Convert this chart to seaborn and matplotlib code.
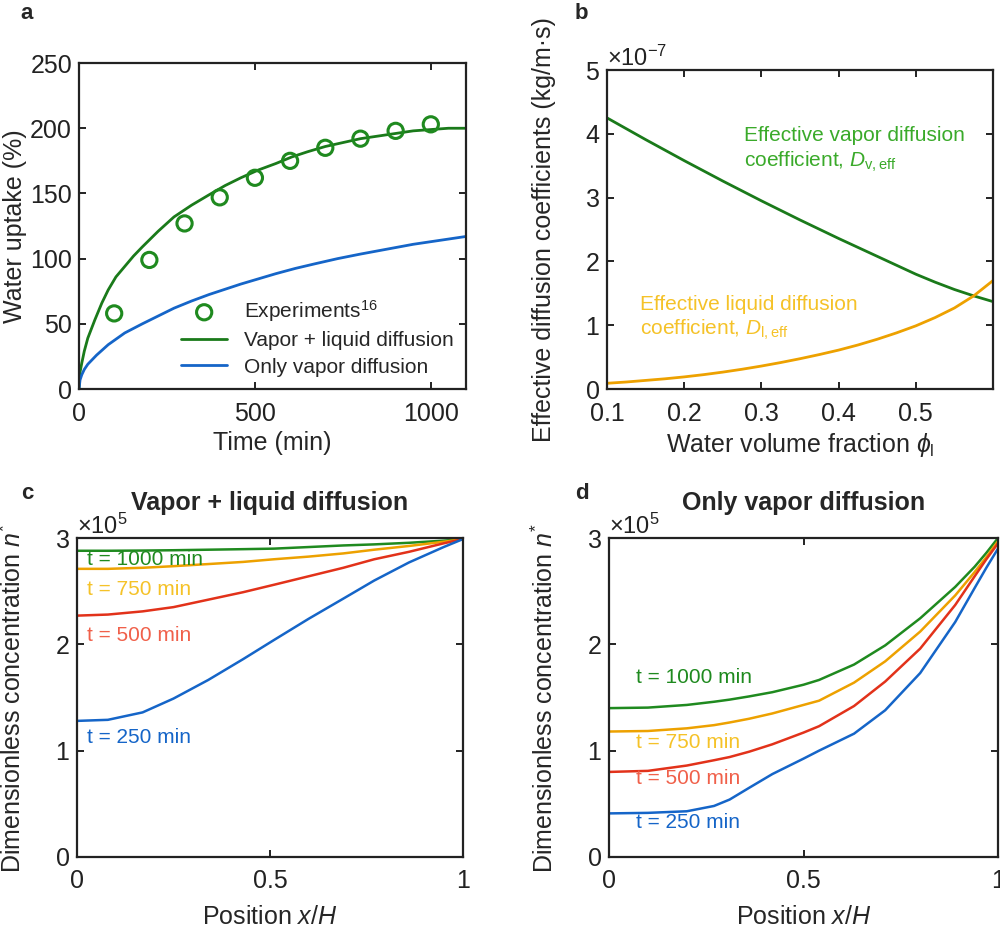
import numpy as np
import pandas as pd
import seaborn as sns
import matplotlib
matplotlib.use("Agg")
import matplotlib.pyplot as plt
from matplotlib.ticker import ScalarFormatter

sns.set_theme(style="ticks")
plt.rcParams['font.family'] = ['Liberation Sans', 'DejaVu Sans']
plt.rcParams['mathtext.fontset'] = 'custom'
plt.rcParams['mathtext.rm'] = 'Liberation Sans'
plt.rcParams['mathtext.it'] = 'Liberation Sans:italic'
plt.rcParams['mathtext.bf'] = 'Liberation Sans:bold'

# ---------------- data ----------------
# panel a
exp_time = [100, 200, 300, 400, 500, 600, 700, 800, 900, 1000]
exp_uptake = [58, 99, 127, 147, 162, 175, 185, 192, 198, 203]
vl_time = [0, 3, 8, 15, 25, 45, 65, 83, 105, 130, 155, 180, 225, 270, 320, 370, 415, 460, 510,
           560, 605, 650, 700, 750, 800, 850, 900, 950, 1000, 1050, 1100]
vl_uptake = [0, 13, 20, 29, 39, 53, 66, 76, 86, 94, 102, 109, 121, 132, 141, 149, 156, 162, 168,
             173, 178, 182, 186, 189, 192, 194, 196, 198, 199, 200, 200]
v_time = [0, 3, 8, 15, 25, 50, 83, 130, 180, 225, 270, 320, 370, 415, 460, 510, 560, 615, 670,
          735, 800, 850, 900, 950, 1000, 1050, 1100]
v_uptake = [0, 7, 11, 15, 19, 26, 34, 43, 50, 56, 62, 67.5, 72.5, 76.5, 80.5, 84.5, 88.5, 92.5, 96,
            100, 103.5, 106, 108.5, 111, 113, 115, 117]

# panel b
phi = [0.100, 0.125, 0.150, 0.175, 0.200, 0.225, 0.250, 0.275, 0.300, 0.325, 0.350,
       0.375, 0.400, 0.425, 0.450, 0.475, 0.500, 0.525, 0.550, 0.575, 0.600]
D_v = [4.25, 4.08, 3.91, 3.745, 3.58, 3.42, 3.26, 3.105, 2.95, 2.80, 2.65,
       2.505, 2.36, 2.22, 2.08, 1.94, 1.80, 1.675, 1.56, 1.46, 1.37]
D_l = [0.09, 0.11, 0.135, 0.16, 0.19, 0.225, 0.265, 0.31, 0.36, 0.415, 0.475,
       0.54, 0.61, 0.69, 0.78, 0.88, 0.99, 1.12, 1.27, 1.46, 1.70]
D_scale = 1e-7

# panel c (vapor + liquid)
pos_c = [0, 0.08, 0.17, 0.25, 0.34, 0.43, 0.51, 0.60, 0.69, 0.77, 0.86, 0.95, 1.0]
c_1000 = [2.88, 2.88, 2.882, 2.885, 2.89, 2.895, 2.90, 2.915, 2.93, 2.94, 2.955, 2.975, 2.99]
c_750 = [2.71, 2.71, 2.72, 2.735, 2.755, 2.775, 2.80, 2.825, 2.855, 2.89, 2.925, 2.965, 2.99]
c_500 = [2.27, 2.28, 2.31, 2.35, 2.42, 2.49, 2.56, 2.64, 2.72, 2.80, 2.87, 2.95, 2.99]
c_250 = [1.28, 1.29, 1.36, 1.49, 1.665, 1.86, 2.04, 2.24, 2.43, 2.60, 2.77, 2.915, 2.99]

# panel d (only vapor)
pos_d = [0, 0.1, 0.2, 0.27, 0.31, 0.36, 0.42, 0.5, 0.54, 0.63, 0.71, 0.8, 0.89, 0.94, 0.97, 1.0]
d_1000 = [1.40, 1.405, 1.43, 1.46, 1.48, 1.51, 1.55, 1.62, 1.665, 1.81, 1.99, 2.245, 2.54, 2.73, 2.86, 3.0]
d_750 = [1.18, 1.185, 1.21, 1.24, 1.265, 1.30, 1.35, 1.43, 1.47, 1.64, 1.84, 2.12, 2.46, 2.68, 2.82, 2.97]
d_500 = [0.80, 0.81, 0.86, 0.91, 0.94, 0.99, 1.06, 1.17, 1.23, 1.42, 1.65, 1.96, 2.37, 2.64, 2.80, 2.95]
d_250 = [0.41, 0.415, 0.43, 0.48, 0.54, 0.65, 0.78, 0.925, 1.00, 1.16, 1.38, 1.73, 2.21, 2.53, 2.72, 2.90]
n_scale = 1e5

time_labels = ["t = 1000 min", "t = 750 min", "t = 500 min", "t = 250 min"]

# ---------------- style ----------------
GREEN = "#1f8a1f"
GREEN_D = "#1a7a1a"
GREEN_T = "#3aaa2a"
BLUE = "#1565c8"
ORANGE = "#eda100"
ORANGE_T = "#f5c228"
RED = "#e2321a"
FS = 18
AFS = 15

fig = plt.figure(figsize=(10, 9.3), dpi=100)
ax_a = fig.add_axes([0.079, 0.5817, 0.387, 0.3505])
ax_b = fig.add_axes([0.607, 0.5817, 0.386, 0.343])
ax_c = fig.add_axes([0.077, 0.0785, 0.386, 0.343])
ax_d = fig.add_axes([0.609, 0.0785, 0.389, 0.343])


def style(ax):
    ax.tick_params(direction="in", top=True, right=True, length=5, width=1.4,
                   labelsize=FS, color="#222222", labelcolor="#222222")
    ax.tick_params(axis="x", pad=9)
    ax.tick_params(axis="y", pad=5)
    for s in ax.spines.values():
        s.set_linewidth(1.6)
        s.set_color("#222222")


def sci(ax):
    f = ScalarFormatter(useMathText=True)
    f.set_powerlimits((0, 0))
    ax.yaxis.set_major_formatter(f)
    ax.yaxis.get_offset_text().set_fontsize(FS - 1)


# ---- a ----
sns.lineplot(x=vl_time, y=vl_uptake, ax=ax_a, color=GREEN_D, lw=2, label="Vapor + liquid diffusion")
sns.lineplot(x=v_time, y=v_uptake, ax=ax_a, color=BLUE, lw=2, label="Only vapor diffusion")
sns.scatterplot(x=exp_time, y=exp_uptake, ax=ax_a, marker="o", s=120, facecolor="none",
                edgecolor=GREEN, linewidth=2.2, label="Experiments$^{16}$", zorder=5)
ax_a.set_xlim(0, 1100)
ax_a.set_ylim(0, 250)
ax_a.set_xticks([0, 500, 1000])
ax_a.set_yticks([0, 50, 100, 150, 200, 250])
ax_a.set_xlabel("Time (min)", fontsize=FS, labelpad=4)
ax_a.set_ylabel("Water uptake (%)", fontsize=FS, labelpad=2)
h, l = ax_a.get_legend_handles_labels()
order = [2, 0, 1]
ax_a.legend([h[i] for i in order], [l[i] for i in order], loc="lower right", frameon=False,
            fontsize=15, handlelength=2.2, borderaxespad=0.2, labelspacing=0.35,
            handletextpad=0.8)
style(ax_a)

# ---- b ----
sns.lineplot(x=phi, y=np.array(D_v) * D_scale, ax=ax_b, color=GREEN_D, lw=2)
sns.lineplot(x=phi, y=np.array(D_l) * D_scale, ax=ax_b, color=ORANGE, lw=2)
ax_b.set_xlim(0.1, 0.6)
ax_b.set_ylim(0, 5e-7)
ax_b.set_xticks([0.1, 0.2, 0.3, 0.4, 0.5])
ax_b.set_xticklabels(["0.1", "0.2", "0.3", "0.4", "0.5"])
sci(ax_b)
ax_b.set_yticks([0, 1e-7, 2e-7, 3e-7, 4e-7, 5e-7])
ax_b.set_xlabel(r"Water volume fraction $\phi_\mathrm{l}$", fontsize=FS, labelpad=4)
ax_b.set_ylabel("Effective diffusion coefficients (kg/m·s)", fontsize=FS, labelpad=21)
ax_b.text(0.277, 3.97e-7, "Effective vapor diffusion", color=GREEN_T, fontsize=AFS, va="center")
ax_b.text(0.277, 3.56e-7, r"coefficient, $D_\mathrm{v,eff}$", color=GREEN_T, fontsize=AFS, va="center")
ax_b.text(0.143, 1.33e-7, "Effective liquid diffusion", color=ORANGE_T, fontsize=AFS, va="center")
ax_b.text(0.143, 0.92e-7, r"coefficient, $D_\mathrm{l,eff}$", color=ORANGE_T, fontsize=AFS, va="center")
style(ax_b)


def conc_panel(ax, pos, curves, labels, label_xy, title):
    cols = [GREEN, ORANGE, RED, BLUE]
    tcols = [GREEN, ORANGE_T, "#f0604a", BLUE]
    for yv, c in zip(curves, cols):
        sns.lineplot(x=pos, y=np.array(yv) * n_scale, ax=ax, color=c, lw=1.8)
    for (lx, ly), t, c in zip(label_xy, labels, tcols):
        ax.text(lx, ly * n_scale, t, color=c, fontsize=AFS, va="center")
    ax.set_xlim(0, 1)
    ax.set_ylim(0, 3e5)
    ax.set_xticks([0, 0.5, 1])
    ax.set_xticklabels(["0", "0.5", "1"])
    sci(ax)
    ax.set_yticks([0, 1e5, 2e5, 3e5])
    ax.set_xlabel(r"Position $x/H$", fontsize=FS, labelpad=8)
    ax.set_ylabel(r"Dimensionless concentration $n^{*}$", fontsize=FS, labelpad=21)
    ax.set_title(title, fontsize=FS, fontweight="bold", pad=20)
    style(ax)


conc_panel(ax_c, pos_c, [c_1000, c_750, c_500, c_250], time_labels,
           [(0.026, 2.80), (0.026, 2.52), (0.026, 2.08), (0.026, 1.12)],
           "Vapor + liquid diffusion")
conc_panel(ax_d, pos_d, [d_1000, d_750, d_500, d_250], time_labels,
           [(0.07, 1.69), (0.07, 1.08), (0.07, 0.74), (0.07, 0.32)],
           "Only vapor diffusion")

for lbl, x, y in [("a", 0.02, 0.997), ("b", 0.575, 0.997), ("c", 0.021, 0.481), ("d", 0.575, 0.481)]:
    fig.text(x, y, lbl, fontsize=16, fontweight="bold", va="top")

fig.savefig("out.png", dpi=100)
